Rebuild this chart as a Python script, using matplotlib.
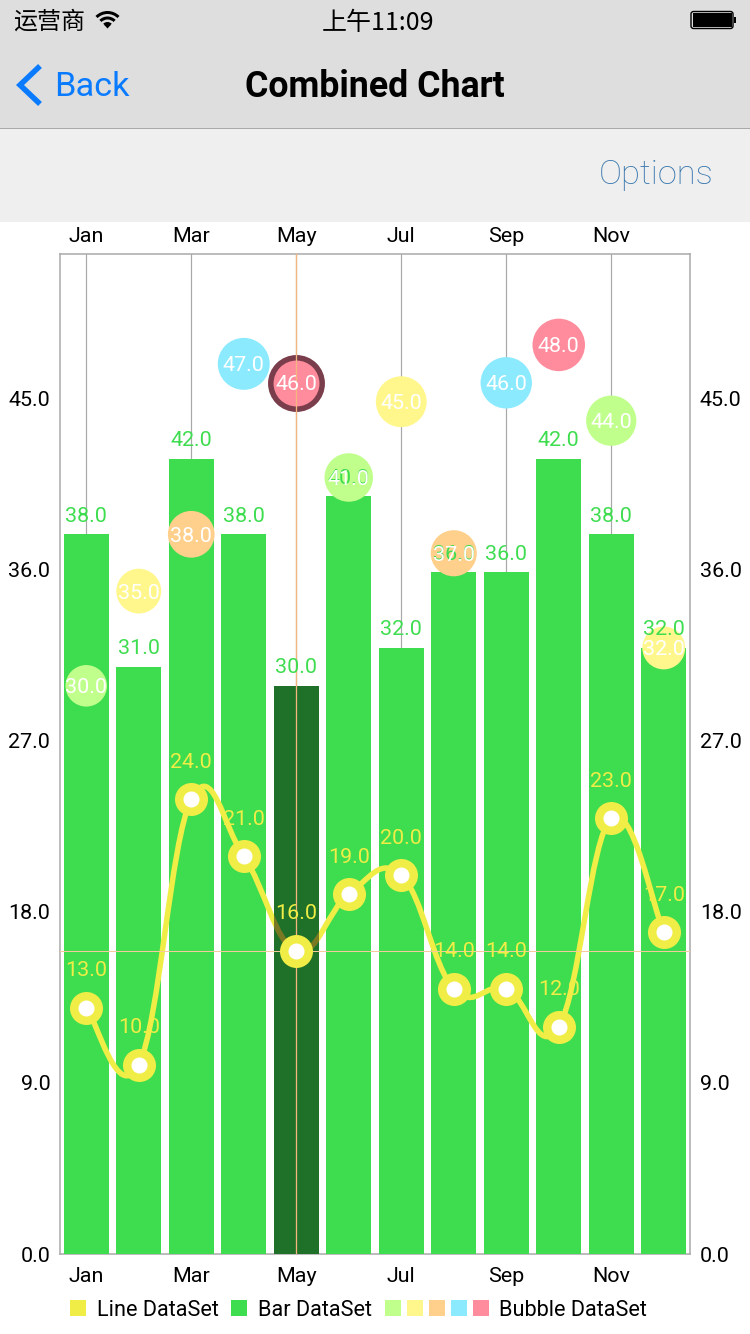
import matplotlib
matplotlib.use("Agg")
import matplotlib.pyplot as plt
from matplotlib.path import Path
from matplotlib.patches import PathPatch, Rectangle, FancyBboxPatch, Wedge, Polygon

months = ["Jan", "Feb", "Mar", "Apr", "May", "Jun", "Jul", "Aug", "Sep", "Oct", "Nov", "Dec"]
line_values = [13, 10, 24, 21, 16, 19, 20, 14, 14, 12, 23, 17]
bar_values = [38, 31, 42, 38, 30, 40, 32, 36, 36, 42, 38, 32]
bubble_values = [30, 35, 38, 47, 46, 41, 45, 37, 46, 48, 44, 32]
y_ticks = [0, 9.03, 18.06, 27.09, 36.12, 45.15]
y_tick_labels = ["0.0", "9.0", "18.0", "27.0", "36.0", "45.0"]
y_max = 52.8
selected = 4

LINE = "#F0EE46"
BAR = "#3EDD50"
BUBBLES = ["#C1FF8C", "#FFF78C", "#FFD08C", "#8CEAFF", "#FF8C9D"]
HL = "#F4B67E"
HL_H = "#F6CA9C"
GREY = "#A8A8A8"
SANS = ["Roboto", "DejaVu Sans"]
CJK = ["Noto Sans CJK SC", "DejaVu Sans"]
PX = 0.72

plt.rcParams["font.family"] = SANS
fig = plt.figure(figsize=(7.5, 13.34), dpi=100)
W, H = 750, 1334
ax = fig.add_axes([60 / W, 1 - 1254 / H, 630 / W, 1000 / H])
ax.set_xlim(-0.5, 11.5)
ax.set_ylim(0, y_max)
x = list(range(len(months)))
TICK = 21.5 * PX

ax.set_xticks(x[::2], months[::2])
ax.set_yticks(y_ticks, y_tick_labels)
ax.tick_params(axis="both", length=0, labelsize=TICK, colors="black")
ax.tick_params(axis="x", pad=9)
ax.tick_params(axis="y", labelleft=True, labelright=True, pad=7)
top = ax.secondary_xaxis("top")
top.set_xticks(x[::2], months[::2])
top.tick_params(axis="x", length=0, labelsize=TICK, pad=5.5)
top.spines["top"].set_visible(False)
ax.set_axisbelow(True)
ax.grid(axis="x", color=GREY, lw=1.2 * PX)
for s in ax.spines.values():
    s.set_color(GREY)
    s.set_linewidth(1.5 * PX)
    s.set_zorder(1)

bars = ax.bar(x, bar_values, width=0.85, color=BAR, zorder=2)

sizes = [(52.5 * PX) ** 2 * v / max(bubble_values) for v in bubble_values]
colors = [BUBBLES[i % 5] for i in x]
ax.scatter(x, bubble_values, s=sizes, c=colors, linewidths=0, zorder=3, clip_on=False)

# cubic bezier through the line values, as the original chart library builds it
k = 0.2
verts = [(x[0], line_values[0])]
codes = [Path.MOVETO]
n = len(x)
for j in range(1, n):
    pp, p, c, nx = max(j - 2, 0), j - 1, j, min(j + 1, n - 1)
    verts += [
        (x[p] + (x[c] - x[pp]) * k, line_values[p] + (line_values[c] - line_values[pp]) * k),
        (x[c] - (x[nx] - x[p]) * k, line_values[c] - (line_values[nx] - line_values[p]) * k),
        (x[c], line_values[c]),
    ]
    codes += [Path.CURVE4] * 3
ax.add_patch(PathPatch(Path(verts, codes), fc="none", ec=LINE, lw=5.5 * PX, zorder=4, capstyle="round"))

# highlighted entry
ax.bar(x[selected], bar_values[selected], width=0.85, color="black", alpha=0.49, lw=0, zorder=5)
ax.scatter([x[selected]], [bubble_values[selected]], s=sizes[selected], c=BUBBLES[4],
           edgecolors="#7A3D4B", linewidths=5.5 * PX, zorder=5, clip_on=False)
ax.axvline(x[selected], color=HL, lw=1.3 * PX, zorder=5.5)
ax.axhline(line_values[selected], color=HL_H, lw=1.0 * PX, zorder=5.5)

ax.plot(x, line_values, ls="none", marker="o", ms=33 * PX, mfc=LINE, mec="none", zorder=6, clip_on=False)
ax.plot(x, line_values, ls="none", marker="o", ms=16 * PX, mfc="white", mec="none", zorder=6.1, clip_on=False)

VS = 21.5 * PX
for i in x:
    ax.annotate(f"{bar_values[i]:.1f}", (i, bar_values[i]), xytext=(0, 18 * PX), textcoords="offset points",
                ha="center", va="center", color=BAR, fontsize=VS, zorder=7)
    ax.annotate(f"{line_values[i]:.1f}", (i, line_values[i]), xytext=(0, 37 * PX), textcoords="offset points",
                ha="center", va="center", color=LINE, fontsize=VS, zorder=7)
    ax.annotate(f"{bubble_values[i]:.1f}", (i, bubble_values[i]), xytext=(0, -2 * PX), textcoords="offset points",
                ha="center", va="center", color="white", fontsize=VS, zorder=7)

# overlay in pixel coordinates: phone chrome and legend
ov = fig.add_axes([0, 0, 1, 1], zorder=10)
ov.set_xlim(0, W)
ov.set_ylim(H, 0)
ov.axis("off")
ov.patch.set_alpha(0)
ov.add_patch(Rectangle((0, 0), W, 128, fc="#DEDEDE", ec="none"))
ov.add_patch(Rectangle((0, 128), W, 1.2, fc="#A9A9A9", ec="none"))
ov.add_patch(Rectangle((0, 129.2), W, 92.8, fc="#EFEFEF", ec="none"))

ov.text(13, 22, "运营商", family=CJK, fontsize=24 * PX, va="center", ha="left", color="black")
ov.text(378, 23, "上午11:09", family=CJK, fontsize=25 * PX, va="center", ha="center", color="black")
ov.text(245, 87, "Combined Chart", fontsize=35.8 * PX, va="center", ha="left", fontweight="bold", color="black")
ov.text(54, 87, "Back", fontsize=34.3 * PX, va="center", ha="left", color="#0A7BFF")
ov.text(713.5, 175, "Options", fontsize=34.5 * PX, va="center", ha="right", color="#3A78AE", fontweight="light")
ov.plot([40, 20, 40], [66, 85, 104], color="#0A7BFF", lw=5.5 * PX, solid_joinstyle="miter", solid_capstyle="butt")

# wifi glyph
for r, w in ((17, 3), (11.5, 3), (6, 3)):
    ov.add_patch(Wedge((107.5, 28), r, 225, 315, width=w, fc="black", ec="none"))
ov.add_patch(Polygon([[107.5, 28.5], [104.3, 25], [110.7, 25]], fc="black", ec="none"))

# battery
ov.add_patch(FancyBboxPatch((691, 11.5), 42, 17, boxstyle="round,pad=0,rounding_size=2.5", fc="none", ec="black", lw=1.4 * PX))
ov.add_patch(Rectangle((692.5, 13), 39, 14, fc="black", ec="none"))
ov.add_patch(Rectangle((734, 16.5), 2, 6.5, fc="black", ec="none"))

# legend
legend_squares = [(70, LINE), (231, BAR), (385, BUBBLES[0]), (407, BUBBLES[1]), (429, BUBBLES[2]), (451, BUBBLES[3]), (473, BUBBLES[4])]
for sx, col in legend_squares:
    ov.add_patch(Rectangle((sx, 1300), 16, 16, fc=col, ec="none"))
for tx, lbl in ((97, "Line DataSet"), (258, "Bar DataSet"), (499, "Bubble DataSet")):
    ov.text(tx, 1311, lbl, fontsize=21.6 * PX, va="center", ha="left", color="black")

fig.savefig("out.png", dpi=100)
